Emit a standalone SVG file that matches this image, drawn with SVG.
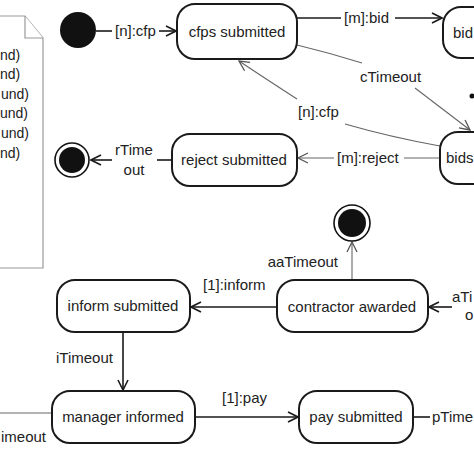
<svg xmlns="http://www.w3.org/2000/svg" width="474" height="474" viewBox="0 0 474 474">
<defs>
<style>
text{font-family:"Liberation Sans",Arial,sans-serif;font-size:15px;fill:#222}
.st rect{fill:#fff;stroke:#1a1a1a;stroke-width:2}
.st text{text-anchor:middle}
.c{stroke:#1a1a1a;stroke-width:1.6;fill:none}
.g{stroke:#666;stroke-width:1.1;fill:none}
.note{fill:#fff;stroke:#999;stroke-width:1.2}
.nt{font-size:14px}
</style>
<marker id="a" viewBox="0 0 12 12" refX="11" refY="6" markerWidth="12" markerHeight="12" markerUnits="userSpaceOnUse" orient="auto">
<path d="M1,1 L11,6 L1,11" fill="none" stroke="#1a1a1a" stroke-width="1.6"/>
</marker>
<marker id="ag" viewBox="0 0 12 12" refX="11" refY="6" markerWidth="12" markerHeight="12" markerUnits="userSpaceOnUse" orient="auto">
<path d="M1,1 L11,6 L1,11" fill="none" stroke="#555" stroke-width="1.3"/>
</marker>
</defs>
<rect width="474" height="474" fill="#fff"/>

<g id="note">
<path class="note" d="M-5,16 L25,16 L43,38 L43,268 L-5,268 Z"/>
<path class="note" d="M25,16 L25,38 L43,38"/>
<text class="nt" x="0" y="60">nd)</text>
<text class="nt" x="0" y="79">nd)</text>
<text class="nt" x="1" y="99">und)</text>
<text class="nt" x="0" y="118">und)</text>
<text class="nt" x="1" y="138">und)</text>
<text class="nt" x="0" y="158">nd)</text>
</g>

<g id="connectors">
<line class="c" x1="96" y1="31" x2="112" y2="31"/>
<text x="115" y="36">[n]:cfp</text>
<line class="c" x1="159" y1="31" x2="176" y2="31" marker-end="url(#a)"/>

<line class="c" x1="297" y1="18" x2="341" y2="18"/>
<text x="344" y="23">[m]:bid</text>
<line class="c" x1="395" y1="18" x2="442" y2="18" marker-end="url(#a)"/>

<path class="g" d="M297,45 Q330,53 362,63"/>
<text x="360" y="82">cTimeout</text>
<line class="g" x1="415" y1="88" x2="470" y2="130" marker-end="url(#ag)"/>

<path class="g" d="M440,146 Q390,137 345,124"/>
<text x="298" y="117">[n]:cfp</text>
<path class="g" d="M297,99 Q266,79 239,61" marker-end="url(#ag)"/>

<line class="g" x1="440" y1="158" x2="404" y2="158"/>
<text x="337" y="163">[m]:reject</text>
<line class="g" x1="334" y1="158" x2="298" y2="158" marker-end="url(#ag)"/>

<line class="c" x1="172" y1="160" x2="157" y2="160"/>
<text x="134" y="155" text-anchor="middle">rTime</text>
<text x="134" y="175" text-anchor="middle">out</text>
<line class="c" x1="112" y1="160" x2="91" y2="160" marker-end="url(#a)"/>

<line class="g" x1="352" y1="280" x2="352" y2="242" marker-end="url(#ag)"/>
<text x="338" y="267" text-anchor="end">aaTimeout</text>

<line class="c" x1="452" y1="307" x2="429" y2="307" marker-end="url(#a)"/>
<text x="452" y="302">aTi</text>
<text x="465" y="320">o</text>

<line class="c" x1="277" y1="307" x2="191" y2="307" marker-end="url(#a)"/>
<text x="203" y="290">[1]:inform</text>

<line class="c" x1="123" y1="332" x2="123" y2="390" marker-end="url(#a)"/>
<text x="56" y="363">iTimeout</text>

<line class="c" x1="195" y1="417" x2="298" y2="417" marker-end="url(#a)"/>
<text x="222" y="403">[1]:pay</text>

<line class="c" x1="413" y1="417" x2="430" y2="417"/>
<text x="432" y="422">pTime</text>

<line class="g" x1="0" y1="413" x2="52" y2="413"/>
<text x="1" y="442">imeout</text>
</g>

<g id="start">
<circle cx="78" cy="30" r="18" fill="#111"/>
</g>
<g id="final1">
<circle cx="72" cy="160" r="17" fill="#fff" stroke="#111" stroke-width="1.6"/>
<circle cx="72" cy="160" r="13" fill="#111"/>
</g>
<g id="final2">
<circle cx="352" cy="223" r="18" fill="#fff" stroke="#111" stroke-width="1.6"/>
<circle cx="352" cy="223" r="14" fill="#111"/>
</g>
<g id="dot"><circle cx="472" cy="96" r="2.5" fill="#111"/></g>

<g id="cfps" class="st"><rect x="177" y="4" width="120" height="55" rx="18"/><text x="237" y="37">cfps submitted</text></g>
<g id="bid" class="st"><rect x="443" y="7" width="80" height="51" rx="18"/><text x="453" y="38" style="text-anchor:start">bid</text></g>
<g id="bids" class="st"><rect x="440" y="132" width="80" height="52" rx="18"/><text x="446" y="163" style="text-anchor:start">bids</text></g>
<g id="reject" class="st"><rect x="172" y="134" width="125" height="52" rx="18"/><text x="234" y="165">reject submitted</text></g>
<g id="inform" class="st"><rect x="57" y="280" width="133" height="52" rx="18"/><text x="123" y="311">inform submitted</text></g>
<g id="contractor" class="st"><rect x="277" y="280" width="151" height="52" rx="18"/><text x="352" y="312">contractor awarded</text></g>
<g id="manager" class="st"><rect x="52" y="391" width="143" height="52" rx="18"/><text x="123" y="422">manager informed</text></g>
<g id="pay" class="st"><rect x="299" y="391" width="114" height="52" rx="18"/><text x="356" y="422">pay submitted</text></g>
</svg>
